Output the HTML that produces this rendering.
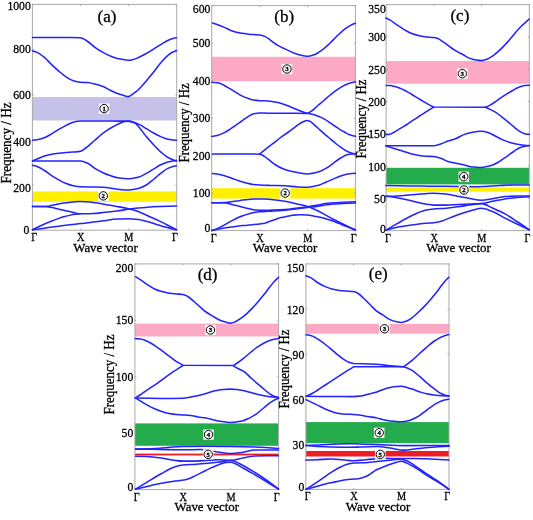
<!DOCTYPE html>
<html><head><meta charset="utf-8"><style>
html,body{margin:0;padding:0;background:#fff;width:533px;height:520px;overflow:hidden;}
svg{position:absolute;left:0;top:0;font-family:"Liberation Serif", serif;}
text{filter:grayscale(1);}
text{fill:#000;stroke:#000;stroke-width:0.3px;}
</style></head><body>
<svg width="533" height="520" viewBox="0 0 533 520">
<rect width="533" height="520" fill="#fff"/>
<rect x="32.4" y="97" width="144.29999999999998" height="23.50" fill="#c6c1e8"/>
<rect x="32.4" y="191.4" width="144.29999999999998" height="10.40" fill="#fff000"/>
<rect x="32.4" y="4.4" width="144.29999999999998" height="225.79999999999998" fill="none" stroke="#a9a9a9" stroke-width="1"/>
<line x1="32.4" y1="230.20" x2="33.9" y2="230.20" stroke="#999" stroke-width="0.8"/>
<line x1="176.7" y1="230.20" x2="175.2" y2="230.20" stroke="#999" stroke-width="0.8"/>
<text transform="translate(29.30,234.20) scale(0.9,1)" font-size="13.0" text-anchor="end">0</text>
<line x1="32.4" y1="185.04" x2="33.9" y2="185.04" stroke="#999" stroke-width="0.8"/>
<line x1="176.7" y1="185.04" x2="175.2" y2="185.04" stroke="#999" stroke-width="0.8"/>
<text transform="translate(30.80,191.70) scale(0.9,1)" font-size="13.0" text-anchor="end">200</text>
<line x1="32.4" y1="139.88" x2="33.9" y2="139.88" stroke="#999" stroke-width="0.8"/>
<line x1="176.7" y1="139.88" x2="175.2" y2="139.88" stroke="#999" stroke-width="0.8"/>
<text transform="translate(30.80,145.65) scale(0.9,1)" font-size="13.0" text-anchor="end">400</text>
<line x1="32.4" y1="94.72" x2="33.9" y2="94.72" stroke="#999" stroke-width="0.8"/>
<line x1="176.7" y1="94.72" x2="175.2" y2="94.72" stroke="#999" stroke-width="0.8"/>
<text transform="translate(30.80,99.45) scale(0.9,1)" font-size="13.0" text-anchor="end">600</text>
<line x1="32.4" y1="49.56" x2="33.9" y2="49.56" stroke="#999" stroke-width="0.8"/>
<line x1="176.7" y1="49.56" x2="175.2" y2="49.56" stroke="#999" stroke-width="0.8"/>
<text transform="translate(30.80,53.30) scale(0.9,1)" font-size="13.0" text-anchor="end">800</text>
<line x1="32.4" y1="4.40" x2="33.9" y2="4.40" stroke="#999" stroke-width="0.8"/>
<line x1="176.7" y1="4.40" x2="175.2" y2="4.40" stroke="#999" stroke-width="0.8"/>
<text transform="translate(30.80,10.05) scale(0.9,1)" font-size="13.0" text-anchor="end">1000</text>
<line x1="80.50" y1="230.2" x2="80.50" y2="228.7" stroke="#999" stroke-width="0.8"/>
<line x1="80.50" y1="4.4" x2="80.50" y2="5.9" stroke="#999" stroke-width="0.8"/>
<line x1="128.60" y1="230.2" x2="128.60" y2="228.7" stroke="#999" stroke-width="0.8"/>
<line x1="128.60" y1="4.4" x2="128.60" y2="5.9" stroke="#999" stroke-width="0.8"/>
<path d="M32.50,37.50C38.33,37.50 44.17,37.50 50.00,37.50C56.67,37.50 63.33,37.50 70.00,37.50C73.50,37.50 77.00,37.60 80.50,37.80C82.90,37.94 85.30,39.99 87.70,41.50C90.10,43.01 92.50,45.60 94.90,47.30C97.60,49.21 100.30,50.90 103.00,52.40C105.40,53.73 107.80,55.04 110.20,56.00C112.60,56.96 115.00,57.83 117.40,58.40C120.97,59.24 124.53,60.30 128.10,60.30C129.73,60.30 131.37,59.94 133.00,59.60C134.70,59.25 136.40,58.42 138.10,57.70C140.67,56.61 143.23,55.21 145.80,53.80C148.37,52.39 150.93,50.78 153.50,49.20C156.07,47.62 158.63,45.84 161.20,44.30C163.73,42.78 166.27,41.13 168.80,40.00C170.20,39.37 171.60,38.76 173.00,38.40C174.17,38.10 175.33,37.84 176.50,37.70" fill="none" stroke="#2323ff" stroke-width="1.55" stroke-linejoin="round" stroke-linecap="round"/>
<path d="M32.50,50.90C34.07,51.17 35.63,51.73 37.20,52.40C39.60,53.42 42.00,55.43 44.40,57.40C46.80,59.37 49.20,62.32 51.60,64.60C54.00,66.88 56.40,69.07 58.80,71.10C61.23,73.16 63.67,75.33 66.10,76.90C68.50,78.45 70.90,80.11 73.30,80.80C75.70,81.49 78.10,81.99 80.50,82.20C82.90,82.41 85.30,82.39 87.70,82.60C90.10,82.81 92.50,83.51 94.90,84.10C97.60,84.76 100.30,85.47 103.00,86.50C105.40,87.42 107.80,89.14 110.20,90.30C112.60,91.46 115.00,92.61 117.40,93.50C119.60,94.31 121.80,95.00 124.00,95.60C125.37,95.97 126.73,96.60 128.10,96.60C129.73,96.60 131.37,94.86 133.00,93.80C134.70,92.70 136.40,91.49 138.10,90.00C140.67,87.75 143.23,84.45 145.80,81.50C148.37,78.55 150.93,75.49 153.50,72.30C156.07,69.11 158.63,65.22 161.20,62.30C163.73,59.42 166.27,56.50 168.80,54.60C170.20,53.55 171.60,52.61 173.00,52.00C174.17,51.49 175.33,51.05 176.50,50.80" fill="none" stroke="#2323ff" stroke-width="1.55" stroke-linejoin="round" stroke-linecap="round"/>
<path d="M32.50,140.20C34.07,140.19 35.63,140.00 37.20,139.80C39.60,139.50 42.00,138.69 44.40,137.80C46.80,136.91 49.20,135.20 51.60,133.80C54.00,132.40 56.40,130.79 58.80,129.40C61.23,127.99 63.67,126.59 66.10,125.40C68.50,124.22 70.90,122.75 73.30,122.20C75.70,121.65 78.10,121.14 80.50,121.10C85.33,121.03 90.17,121.00 95.00,121.00C100.00,121.00 105.00,121.10 110.00,121.10C116.17,121.10 122.33,121.10 128.50,121.10C132.03,121.10 135.57,122.92 139.10,124.40C141.50,125.40 143.90,127.27 146.30,128.70C148.70,130.13 151.10,131.69 153.50,133.00C155.90,134.31 158.30,135.59 160.70,136.60C163.10,137.61 165.50,138.77 167.90,139.20C170.77,139.71 173.63,140.20 176.50,140.20" fill="none" stroke="#2323ff" stroke-width="1.55" stroke-linejoin="round" stroke-linecap="round"/>
<path d="M32.50,160.90C34.07,160.27 35.63,159.63 37.20,159.00C39.60,158.03 42.00,156.87 44.40,156.10C46.80,155.33 49.20,154.64 51.60,154.20C54.00,153.76 56.40,153.47 58.80,153.20C61.23,152.92 63.67,152.71 66.10,152.50C67.40,152.39 68.70,152.29 70.00,152.20C71.67,152.09 73.33,152.04 75.00,151.90C76.83,151.75 78.67,151.59 80.50,151.20C82.00,150.88 83.50,149.52 85.00,148.50C86.80,147.27 88.60,145.71 90.40,144.20C92.97,142.04 95.53,139.46 98.10,137.30C100.67,135.14 103.23,132.97 105.80,131.20C108.37,129.43 110.93,127.90 113.50,126.50C116.07,125.10 118.63,123.66 121.20,122.70C122.47,122.22 123.73,121.71 125.00,121.50C126.17,121.31 127.33,121.10 128.50,121.10C130.57,121.10 132.63,121.94 134.70,122.90C136.17,123.58 137.63,125.66 139.10,127.30C141.50,129.98 143.90,133.73 146.30,136.60C148.70,139.47 151.10,142.07 153.50,144.60C155.90,147.13 158.30,149.68 160.70,151.80C163.10,153.92 165.50,156.22 167.90,157.50C170.77,159.03 173.63,160.39 176.50,160.90" fill="none" stroke="#2323ff" stroke-width="1.55" stroke-linejoin="round" stroke-linecap="round"/>
<path d="M32.50,160.90C38.33,160.90 44.17,160.90 50.00,160.90C56.67,160.90 63.33,160.90 70.00,160.90C73.50,160.90 77.00,160.93 80.50,161.00C82.90,161.05 85.30,162.24 87.70,163.30C90.10,164.36 92.50,166.94 94.90,168.40C97.60,170.04 100.30,171.47 103.00,172.70C105.40,173.80 107.80,174.79 110.20,175.60C112.60,176.41 115.00,177.33 117.40,177.70C121.10,178.27 124.80,178.80 128.50,178.80C132.03,178.80 135.57,177.92 139.10,177.00C141.50,176.37 143.90,174.71 146.30,173.40C148.70,172.09 151.10,170.53 153.50,169.10C155.90,167.67 158.30,165.95 160.70,164.80C163.10,163.65 165.50,162.49 167.90,161.90C170.77,161.19 173.63,160.54 176.50,160.40" fill="none" stroke="#2323ff" stroke-width="1.55" stroke-linejoin="round" stroke-linecap="round"/>
<path d="M32.50,165.20C34.07,165.52 35.63,166.01 37.20,166.60C39.60,167.50 42.00,169.03 44.40,170.50C46.80,171.97 49.20,174.04 51.60,175.60C54.00,177.16 56.40,178.60 58.80,179.90C61.23,181.21 63.67,182.58 66.10,183.50C68.50,184.41 70.90,185.24 73.30,185.70C75.70,186.16 78.10,186.60 80.50,186.70C84.67,186.88 88.83,186.89 93.00,187.00C96.33,187.09 99.67,187.14 103.00,187.30C107.80,187.53 112.60,188.76 117.40,189.20C121.10,189.54 124.80,190.00 128.50,190.00C132.03,190.00 135.57,189.17 139.10,188.30C141.50,187.71 143.90,186.38 146.30,185.00C148.70,183.62 151.10,181.43 153.50,179.50C155.90,177.57 158.30,175.23 160.70,173.40C163.10,171.57 165.50,169.42 167.90,168.40C170.77,167.18 173.63,166.05 176.50,165.80" fill="none" stroke="#2323ff" stroke-width="1.55" stroke-linejoin="round" stroke-linecap="round"/>
<path d="M32.50,206.40C35.00,206.40 37.50,206.40 40.00,206.40C42.30,206.40 44.60,206.32 46.90,206.20C48.60,206.11 50.30,205.61 52.00,205.30C54.07,204.92 56.13,204.48 58.20,204.10C60.13,203.75 62.07,203.39 64.00,203.10C65.80,202.83 67.60,202.61 69.40,202.40C71.27,202.18 73.13,201.94 75.00,201.80C76.67,201.67 78.33,201.50 80.00,201.50C82.00,201.50 84.00,201.67 86.00,201.80C88.43,201.96 90.87,202.22 93.30,202.50C96.53,202.87 99.77,203.38 103.00,203.90C107.70,204.66 112.40,205.59 117.10,206.50C120.90,207.23 124.70,207.92 128.50,208.80C131.00,209.38 133.50,210.00 136.00,210.80C138.63,211.65 141.27,212.86 143.90,214.00C146.27,215.03 148.63,216.24 151.00,217.30C153.53,218.44 156.07,219.42 158.60,220.60C161.17,221.80 163.73,223.17 166.30,224.50C168.20,225.48 170.10,226.52 172.00,227.50C173.50,228.28 175.00,229.04 176.50,229.80" fill="none" stroke="#2323ff" stroke-width="1.55" stroke-linejoin="round" stroke-linecap="round"/>
<path d="M32.50,206.40C35.00,206.41 37.50,206.45 40.00,206.50C42.30,206.54 44.60,206.58 46.90,206.70C48.60,206.79 50.30,207.26 52.00,207.60C54.07,208.01 56.13,208.54 58.20,209.00C60.13,209.43 62.07,209.87 64.00,210.30C65.80,210.70 67.60,211.08 69.40,211.50C71.27,211.94 73.13,212.54 75.00,212.90C76.70,213.23 78.40,213.70 80.10,213.70C82.17,213.70 84.23,213.70 86.30,213.70C88.63,213.70 90.97,213.60 93.30,213.50C96.53,213.36 99.77,212.93 103.00,212.60C107.70,212.12 112.40,211.61 117.10,211.00C120.90,210.51 124.70,209.81 128.50,209.30C131.73,208.86 134.97,208.46 138.20,208.10C140.53,207.84 142.87,207.59 145.20,207.40C149.90,207.02 154.60,206.69 159.30,206.50C165.03,206.27 170.77,206.06 176.50,206.00" fill="none" stroke="#2323ff" stroke-width="1.55" stroke-linejoin="round" stroke-linecap="round"/>
<path d="M32.50,229.80C35.43,228.28 38.37,226.83 41.30,225.50C45.03,223.81 48.77,222.23 52.50,220.80C56.27,219.35 60.03,217.86 63.80,216.80C67.53,215.75 71.27,214.69 75.00,214.20C76.70,213.98 78.40,213.80 80.10,213.70" fill="none" stroke="#2323ff" stroke-width="1.55" stroke-linejoin="round" stroke-linecap="round"/>
<path d="M32.50,229.80C35.43,229.47 38.37,229.10 41.30,228.70C45.03,228.19 48.77,227.53 52.50,227.00C56.27,226.47 60.03,225.97 63.80,225.50C67.53,225.04 71.27,224.61 75.00,224.20C76.90,223.99 78.80,223.80 80.70,223.60C82.57,223.40 84.43,223.22 86.30,223.00C87.53,222.85 88.77,222.68 90.00,222.50C91.10,222.34 92.20,222.15 93.30,222.00C96.53,221.55 99.77,221.20 103.00,220.80C107.70,220.23 112.40,219.35 117.10,219.10C120.90,218.90 124.70,218.70 128.50,218.70C131.73,218.70 134.97,219.03 138.20,219.40C140.53,219.67 142.87,220.50 145.20,221.10C147.53,221.70 149.87,222.32 152.20,223.00C154.33,223.62 156.47,224.35 158.60,225.00C161.17,225.78 163.73,226.61 166.30,227.30C169.70,228.22 173.10,229.07 176.50,229.80" fill="none" stroke="#2323ff" stroke-width="1.55" stroke-linejoin="round" stroke-linecap="round"/>
<rect x="98.85" y="103.50" width="10.5" height="10.2" fill="#fff"/>
<circle cx="104.1" cy="108.6" r="4.2" fill="#fff" stroke="#000" stroke-width="1.0"/>
<text x="104.1" y="110.90" font-size="6.8" font-weight="bold" text-anchor="middle" style="stroke-width:0.3px">1</text>
<rect x="98.05" y="190.80" width="10.5" height="10.2" fill="#fff"/>
<circle cx="103.3" cy="195.9" r="4.2" fill="#fff" stroke="#000" stroke-width="1.0"/>
<text x="103.3" y="198.20" font-size="6.8" font-weight="bold" text-anchor="middle" style="stroke-width:0.3px">2</text>
<text transform="translate(34.30,241.40) scale(0.76,1)" font-size="13.5" text-anchor="middle">Γ</text>
<text transform="translate(80.80,241.40) scale(0.76,1)" font-size="13.5" text-anchor="middle">X</text>
<text transform="translate(128.90,241.40) scale(0.76,1)" font-size="13.5" text-anchor="middle">M</text>
<text transform="translate(174.90,241.40) scale(0.76,1)" font-size="13.5" text-anchor="middle">Γ</text>
<text x="105.5" y="251.5" font-size="12.9" text-anchor="middle">Wave vector</text>
<text x="107" y="22" font-size="17" text-anchor="middle">(a)</text>
<text transform="translate(11.1,143.0) rotate(-90) scale(0.94,1)" font-size="14" text-anchor="middle">Frequency / Hz</text>
<rect x="211.7" y="56.8" width="143.7" height="24.40" fill="#fba9c5"/>
<rect x="211.7" y="188.2" width="143.7" height="10.40" fill="#fff000"/>
<rect x="211.7" y="5.6" width="143.7" height="225.0" fill="none" stroke="#a9a9a9" stroke-width="1"/>
<line x1="211.7" y1="230.60" x2="213.2" y2="230.60" stroke="#999" stroke-width="0.8"/>
<line x1="355.4" y1="230.60" x2="353.9" y2="230.60" stroke="#999" stroke-width="0.8"/>
<text transform="translate(210.40,232.40) scale(0.9,1)" font-size="13.0" text-anchor="end">0</text>
<line x1="211.7" y1="193.10" x2="213.2" y2="193.10" stroke="#999" stroke-width="0.8"/>
<line x1="355.4" y1="193.10" x2="353.9" y2="193.10" stroke="#999" stroke-width="0.8"/>
<text transform="translate(210.40,197.20) scale(0.9,1)" font-size="13.0" text-anchor="end">100</text>
<line x1="211.7" y1="155.60" x2="213.2" y2="155.60" stroke="#999" stroke-width="0.8"/>
<line x1="355.4" y1="155.60" x2="353.9" y2="155.60" stroke="#999" stroke-width="0.8"/>
<text transform="translate(210.40,159.70) scale(0.9,1)" font-size="13.0" text-anchor="end">200</text>
<line x1="211.7" y1="118.10" x2="213.2" y2="118.10" stroke="#999" stroke-width="0.8"/>
<line x1="355.4" y1="118.10" x2="353.9" y2="118.10" stroke="#999" stroke-width="0.8"/>
<text transform="translate(210.40,122.20) scale(0.9,1)" font-size="13.0" text-anchor="end">300</text>
<line x1="211.7" y1="80.60" x2="213.2" y2="80.60" stroke="#999" stroke-width="0.8"/>
<line x1="355.4" y1="80.60" x2="353.9" y2="80.60" stroke="#999" stroke-width="0.8"/>
<text transform="translate(210.40,84.70) scale(0.9,1)" font-size="13.0" text-anchor="end">400</text>
<line x1="211.7" y1="43.10" x2="213.2" y2="43.10" stroke="#999" stroke-width="0.8"/>
<line x1="355.4" y1="43.10" x2="353.9" y2="43.10" stroke="#999" stroke-width="0.8"/>
<text transform="translate(210.40,47.20) scale(0.9,1)" font-size="13.0" text-anchor="end">500</text>
<line x1="211.7" y1="5.60" x2="213.2" y2="5.60" stroke="#999" stroke-width="0.8"/>
<line x1="355.4" y1="5.60" x2="353.9" y2="5.60" stroke="#999" stroke-width="0.8"/>
<text transform="translate(210.40,12.60) scale(0.9,1)" font-size="13.0" text-anchor="end">600</text>
<line x1="259.60" y1="230.6" x2="259.60" y2="229.1" stroke="#999" stroke-width="0.8"/>
<line x1="259.60" y1="5.6" x2="259.60" y2="7.1" stroke="#999" stroke-width="0.8"/>
<line x1="307.50" y1="230.6" x2="307.50" y2="229.1" stroke="#999" stroke-width="0.8"/>
<line x1="307.50" y1="5.6" x2="307.50" y2="7.1" stroke="#999" stroke-width="0.8"/>
<path d="M212.50,23.00C214.07,23.45 215.63,23.95 217.20,24.50C219.60,25.35 222.00,26.37 224.40,27.40C226.80,28.43 229.20,29.87 231.60,30.70C234.00,31.53 236.40,32.23 238.80,32.70C241.23,33.18 243.67,33.49 246.10,33.80C248.50,34.11 250.90,34.44 253.30,34.60C255.47,34.74 257.63,34.72 259.80,34.90C261.47,35.04 263.13,35.71 264.80,36.40C266.73,37.19 268.67,38.97 270.60,40.30C273.00,41.95 275.40,44.01 277.80,45.40C279.53,46.41 281.27,47.16 283.00,48.00C285.40,49.17 287.80,50.36 290.20,51.40C292.60,52.44 295.00,53.63 297.40,54.30C300.43,55.14 303.47,56.20 306.50,56.20C307.67,56.20 308.83,56.05 310.00,55.90C311.40,55.72 312.80,55.22 314.20,54.70C316.77,53.74 319.33,51.91 321.90,50.10C324.47,48.29 327.03,45.87 329.60,43.50C332.17,41.13 334.73,38.24 337.30,35.80C339.87,33.36 342.43,30.65 345.00,28.80C347.57,26.95 350.13,25.33 352.70,24.20C353.60,23.80 354.50,23.48 355.40,23.20" fill="none" stroke="#2323ff" stroke-width="1.55" stroke-linejoin="round" stroke-linecap="round"/>
<path d="M211.80,82.20C213.87,82.20 215.93,82.48 218.00,82.80C219.97,83.11 221.93,84.26 223.90,85.20C225.90,86.16 227.90,87.52 229.90,88.70C231.90,89.88 233.90,91.09 235.90,92.30C237.87,93.49 239.83,94.95 241.80,95.90C243.80,96.87 245.80,97.61 247.80,98.30C249.80,98.99 251.80,99.80 253.80,100.10C255.77,100.40 257.73,100.59 259.70,100.70C262.37,100.85 265.03,100.84 267.70,101.00C270.10,101.14 272.50,101.58 274.90,102.00C277.60,102.47 280.30,103.10 283.00,103.90C285.40,104.62 287.80,105.83 290.20,106.80C292.60,107.77 295.00,108.80 297.40,109.70C300.77,110.96 304.13,113.20 307.50,113.20C309.33,113.20 311.17,111.31 313.00,110.00C314.63,108.83 316.27,106.93 317.90,105.50C319.90,103.75 321.90,102.22 323.90,100.50C325.60,99.04 327.30,97.43 329.00,96.00C330.50,94.74 332.00,93.53 333.50,92.40C335.90,90.59 338.30,88.71 340.70,87.30C343.10,85.89 345.50,84.44 347.90,83.70C350.43,82.91 352.97,82.21 355.50,82.00" fill="none" stroke="#2323ff" stroke-width="1.55" stroke-linejoin="round" stroke-linecap="round"/>
<path d="M211.80,136.50C213.87,136.33 215.93,135.84 218.00,135.30C219.97,134.78 221.93,133.85 223.90,132.90C225.90,131.93 227.90,130.59 229.90,129.30C231.90,128.01 233.90,126.49 235.90,125.10C237.87,123.73 239.83,122.37 241.80,121.00C243.80,119.61 245.80,117.97 247.80,116.80C249.80,115.63 251.80,114.27 253.80,113.80C255.77,113.34 257.73,112.90 259.70,112.90C263.13,112.90 266.57,113.30 270.00,113.30C274.33,113.30 278.67,113.30 283.00,113.30C291.17,113.30 299.33,113.31 307.50,113.40C308.33,113.41 309.17,113.57 310.00,113.70C311.63,113.95 313.27,114.40 314.90,114.90C316.57,115.41 318.23,116.16 319.90,116.90C321.57,117.64 323.23,118.45 324.90,119.40C326.57,120.35 328.23,121.59 329.90,122.70C331.53,123.79 333.17,124.91 334.80,126.00C336.47,127.11 338.13,128.25 339.80,129.30C341.47,130.35 343.13,131.38 344.80,132.30C346.43,133.20 348.07,134.23 349.70,134.80C351.63,135.47 353.57,136.06 355.50,136.30" fill="none" stroke="#2323ff" stroke-width="1.55" stroke-linejoin="round" stroke-linecap="round"/>
<path d="M259.70,154.00C261.80,152.27 263.90,150.56 266.00,148.90C268.63,146.82 271.27,144.85 273.90,142.80C275.93,141.21 277.97,139.52 280.00,138.00C282.60,136.06 285.20,134.39 287.80,132.50C289.53,131.24 291.27,129.90 293.00,128.60C294.97,127.13 296.93,125.48 298.90,124.20C300.27,123.31 301.63,122.35 303.00,121.80C304.43,121.23 305.87,120.50 307.30,120.50C308.20,120.50 309.10,120.99 310.00,121.40C311.63,122.14 313.27,123.92 314.90,125.30C316.57,126.71 318.23,128.30 319.90,129.80C321.57,131.30 323.23,132.84 324.90,134.30C326.87,136.02 328.83,137.64 330.80,139.30C332.67,140.87 334.53,142.53 336.40,144.00C337.83,145.13 339.27,146.21 340.70,147.20C343.10,148.86 345.50,150.84 347.90,151.80C350.43,152.81 352.97,153.72 355.50,154.00" fill="none" stroke="#2323ff" stroke-width="1.55" stroke-linejoin="round" stroke-linecap="round"/>
<path d="M212.50,154.00C218.33,154.00 224.17,154.00 230.00,154.00C236.67,154.00 243.33,154.00 250.00,154.00C253.27,154.00 256.53,154.07 259.80,154.20C262.43,154.31 265.07,157.03 267.70,158.80C270.10,160.41 272.50,162.97 274.90,164.50C277.60,166.22 280.30,167.74 283.00,168.80C285.33,169.72 287.67,170.42 290.00,171.00C292.47,171.61 294.93,172.09 297.40,172.50C300.77,173.06 304.13,173.90 307.50,173.90C311.33,173.90 315.17,172.79 319.00,171.70C321.43,171.01 323.87,169.50 326.30,168.10C328.70,166.72 331.10,164.78 333.50,163.10C335.90,161.42 338.30,159.41 340.70,158.00C343.10,156.59 345.50,154.78 347.90,154.40C350.43,154.00 352.97,153.70 355.50,153.70" fill="none" stroke="#2323ff" stroke-width="1.55" stroke-linejoin="round" stroke-linecap="round"/>
<path d="M212.50,173.50C214.07,173.52 215.63,173.71 217.20,173.90C219.60,174.20 222.00,175.09 224.40,175.80C226.80,176.51 229.20,177.37 231.60,178.20C234.00,179.03 236.40,180.01 238.80,180.80C241.23,181.60 243.67,182.43 246.10,183.00C248.50,183.57 250.90,184.10 253.30,184.40C255.47,184.67 257.63,184.88 259.80,185.00C263.20,185.19 266.60,185.29 270.00,185.40C275.00,185.56 280.00,185.59 285.00,185.80C289.13,185.97 293.27,186.68 297.40,186.90C300.77,187.08 304.13,187.30 307.50,187.30C311.33,187.30 315.17,186.22 319.00,185.20C321.43,184.55 323.87,183.06 326.30,182.00C328.70,180.96 331.10,179.88 333.50,178.90C335.90,177.92 338.30,176.92 340.70,176.10C343.10,175.28 345.50,174.24 347.90,173.90C350.43,173.54 352.97,173.20 355.50,173.20" fill="none" stroke="#2323ff" stroke-width="1.55" stroke-linejoin="round" stroke-linecap="round"/>
<path d="M211.80,202.70C214.20,202.70 216.60,202.70 219.00,202.70C221.30,202.70 223.60,202.66 225.90,202.60C227.60,202.55 229.30,202.06 231.00,201.80C233.07,201.49 235.13,201.19 237.20,200.90C239.13,200.63 241.07,200.34 243.00,200.10C244.80,199.88 246.60,199.67 248.40,199.50C250.10,199.34 251.80,199.19 253.50,199.10C255.17,199.01 256.83,198.90 258.50,198.90C260.33,198.90 262.17,198.95 264.00,199.00C265.67,199.05 267.33,199.18 269.00,199.30C270.43,199.41 271.87,199.55 273.30,199.70C277.20,200.11 281.10,200.57 285.00,201.20C289.03,201.86 293.07,202.95 297.10,203.90C300.60,204.72 304.10,205.41 307.60,206.50C311.13,207.60 314.67,209.28 318.20,211.00C320.53,212.13 322.87,213.62 325.20,214.90C327.53,216.18 329.87,217.49 332.20,218.70C334.57,219.92 336.93,221.03 339.30,222.20C341.63,223.36 343.97,224.60 346.30,225.70C349.37,227.15 352.43,228.53 355.50,229.80" fill="none" stroke="#2323ff" stroke-width="1.55" stroke-linejoin="round" stroke-linecap="round"/>
<path d="M211.80,202.70C214.20,202.70 216.60,202.75 219.00,202.80C221.30,202.85 223.60,202.93 225.90,203.10C227.60,203.23 229.30,203.81 231.00,204.20C233.07,204.67 235.13,205.18 237.20,205.70C239.13,206.18 241.07,206.72 243.00,207.20C244.80,207.65 246.60,208.12 248.40,208.50C251.03,209.06 253.67,209.78 256.30,210.00C257.43,210.10 258.57,210.20 259.70,210.20C262.80,210.20 265.90,210.20 269.00,210.20C270.43,210.20 271.87,210.14 273.30,210.10C277.20,209.99 281.10,209.85 285.00,209.60C289.03,209.34 293.07,208.62 297.10,208.10C300.60,207.65 304.10,207.21 307.60,206.70C311.13,206.19 314.67,205.63 318.20,205.00C320.53,204.58 322.87,203.88 325.20,203.60C329.90,203.05 334.60,202.76 339.30,202.50C344.70,202.20 350.10,201.93 355.50,201.80" fill="none" stroke="#2323ff" stroke-width="1.55" stroke-linejoin="round" stroke-linecap="round"/>
<path d="M211.80,230.60C214.63,229.61 217.47,228.43 220.30,227.10C224.03,225.35 227.77,222.76 231.50,220.90C235.27,219.03 239.03,217.14 242.80,215.80C246.53,214.47 250.27,213.18 254.00,212.50C255.90,212.15 257.80,211.83 259.70,211.70C262.80,211.49 265.90,211.44 269.00,211.30C270.43,211.24 271.87,211.18 273.30,211.10C277.20,210.88 281.10,210.56 285.00,210.20C289.03,209.83 293.07,209.28 297.10,208.80C300.60,208.38 304.10,207.93 307.60,207.50C311.13,207.06 314.67,206.71 318.20,206.20C320.53,205.86 322.87,205.28 325.20,205.00C329.90,204.44 334.60,204.10 339.30,203.80C344.70,203.46 350.10,203.16 355.50,203.00" fill="none" stroke="#2323ff" stroke-width="1.55" stroke-linejoin="round" stroke-linecap="round"/>
<path d="M211.80,230.60C214.63,229.93 217.47,229.30 220.30,228.80C224.03,228.13 227.77,227.63 231.50,227.10C235.27,226.57 239.03,226.03 242.80,225.60C246.53,225.18 250.27,224.88 254.00,224.50C255.90,224.31 257.80,224.12 259.70,223.90C261.47,223.69 263.23,223.55 265.00,223.20C266.67,222.87 268.33,221.79 270.00,221.20C272.10,220.45 274.20,219.89 276.30,219.20C277.87,218.68 279.43,218.02 281.00,217.60C283.17,217.02 285.33,216.63 287.50,216.20C289.33,215.84 291.17,215.42 293.00,215.20C294.93,214.97 296.87,214.70 298.80,214.70C300.20,214.70 301.60,214.70 303.00,214.70C304.40,214.70 305.80,214.87 307.20,215.00C308.47,215.12 309.73,215.30 311.00,215.50C312.57,215.74 314.13,216.09 315.70,216.40C317.13,216.69 318.57,216.97 320.00,217.30C321.67,217.69 323.33,218.13 325.00,218.60C327.40,219.27 329.80,219.97 332.20,220.80C334.57,221.62 336.93,222.66 339.30,223.60C341.63,224.53 343.97,225.44 346.30,226.40C349.33,227.65 352.37,228.95 355.40,230.30" fill="none" stroke="#2323ff" stroke-width="1.55" stroke-linejoin="round" stroke-linecap="round"/>
<rect x="281.75" y="63.90" width="10.5" height="10.2" fill="#fff"/>
<circle cx="287" cy="69" r="4.2" fill="#fff" stroke="#000" stroke-width="1.0"/>
<text x="287" y="71.30" font-size="6.8" font-weight="bold" text-anchor="middle" style="stroke-width:0.3px">3</text>
<rect x="279.95" y="188.00" width="10.5" height="10.2" fill="#fff"/>
<circle cx="285.2" cy="193.1" r="4.2" fill="#fff" stroke="#000" stroke-width="1.0"/>
<text x="285.2" y="195.40" font-size="6.8" font-weight="bold" text-anchor="middle" style="stroke-width:0.3px">2</text>
<text transform="translate(213.60,241.80) scale(0.76,1)" font-size="13.5" text-anchor="middle">Γ</text>
<text transform="translate(259.90,241.80) scale(0.76,1)" font-size="13.5" text-anchor="middle">X</text>
<text transform="translate(307.80,241.80) scale(0.76,1)" font-size="13.5" text-anchor="middle">M</text>
<text transform="translate(353.60,241.80) scale(0.76,1)" font-size="13.5" text-anchor="middle">Γ</text>
<text x="285" y="251.5" font-size="12.9" text-anchor="middle">Wave vector</text>
<text x="284.2" y="22" font-size="17" text-anchor="middle">(b)</text>
<text transform="translate(189.4,122.95) rotate(-90) scale(0.917,1)" font-size="14" text-anchor="middle">Frequency / Hz</text>
<rect x="386.1" y="61" width="143.19999999999993" height="22.70" fill="#fba9c5"/>
<rect x="386.1" y="167.8" width="143.19999999999993" height="16.60" fill="#24ab4b"/>
<rect x="386.1" y="187.4" width="143.19999999999993" height="4.30" fill="#fff000"/>
<rect x="386.1" y="4.6" width="143.19999999999993" height="226.0" fill="none" stroke="#a9a9a9" stroke-width="1"/>
<line x1="386.1" y1="230.60" x2="387.6" y2="230.60" stroke="#999" stroke-width="0.8"/>
<line x1="529.3" y1="230.60" x2="527.8" y2="230.60" stroke="#999" stroke-width="0.8"/>
<text transform="translate(385.80,232.50) scale(0.9,1)" font-size="13.0" text-anchor="end">0</text>
<line x1="386.1" y1="198.31" x2="387.6" y2="198.31" stroke="#999" stroke-width="0.8"/>
<line x1="529.3" y1="198.31" x2="527.8" y2="198.31" stroke="#999" stroke-width="0.8"/>
<text transform="translate(385.80,202.81) scale(0.9,1)" font-size="13.0" text-anchor="end">50</text>
<line x1="386.1" y1="166.03" x2="387.6" y2="166.03" stroke="#999" stroke-width="0.8"/>
<line x1="529.3" y1="166.03" x2="527.8" y2="166.03" stroke="#999" stroke-width="0.8"/>
<text transform="translate(385.80,170.53) scale(0.9,1)" font-size="13.0" text-anchor="end">100</text>
<line x1="386.1" y1="133.74" x2="387.6" y2="133.74" stroke="#999" stroke-width="0.8"/>
<line x1="529.3" y1="133.74" x2="527.8" y2="133.74" stroke="#999" stroke-width="0.8"/>
<text transform="translate(385.80,138.24) scale(0.9,1)" font-size="13.0" text-anchor="end">150</text>
<line x1="386.1" y1="101.46" x2="387.6" y2="101.46" stroke="#999" stroke-width="0.8"/>
<line x1="529.3" y1="101.46" x2="527.8" y2="101.46" stroke="#999" stroke-width="0.8"/>
<text transform="translate(385.80,105.96) scale(0.9,1)" font-size="13.0" text-anchor="end">200</text>
<line x1="386.1" y1="69.17" x2="387.6" y2="69.17" stroke="#999" stroke-width="0.8"/>
<line x1="529.3" y1="69.17" x2="527.8" y2="69.17" stroke="#999" stroke-width="0.8"/>
<text transform="translate(385.80,73.67) scale(0.9,1)" font-size="13.0" text-anchor="end">250</text>
<line x1="386.1" y1="36.89" x2="387.6" y2="36.89" stroke="#999" stroke-width="0.8"/>
<line x1="529.3" y1="36.89" x2="527.8" y2="36.89" stroke="#999" stroke-width="0.8"/>
<text transform="translate(385.80,41.39) scale(0.9,1)" font-size="13.0" text-anchor="end">300</text>
<line x1="386.1" y1="4.60" x2="387.6" y2="4.60" stroke="#999" stroke-width="0.8"/>
<line x1="529.3" y1="4.60" x2="527.8" y2="4.60" stroke="#999" stroke-width="0.8"/>
<text transform="translate(385.80,12.80) scale(0.9,1)" font-size="13.0" text-anchor="end">350</text>
<line x1="433.83" y1="230.6" x2="433.83" y2="229.1" stroke="#999" stroke-width="0.8"/>
<line x1="433.83" y1="4.6" x2="433.83" y2="6.1" stroke="#999" stroke-width="0.8"/>
<line x1="481.57" y1="230.6" x2="481.57" y2="229.1" stroke="#999" stroke-width="0.8"/>
<line x1="481.57" y1="4.6" x2="481.57" y2="6.1" stroke="#999" stroke-width="0.8"/>
<path d="M385.80,18.00C387.27,18.57 388.73,19.28 390.20,20.10C392.60,21.45 395.00,23.59 397.40,25.20C399.80,26.81 402.20,28.41 404.60,29.80C407.00,31.19 409.40,32.71 411.80,33.60C414.23,34.51 416.67,35.16 419.10,35.70C421.50,36.23 423.90,36.76 426.30,37.00C428.70,37.24 431.10,37.23 433.50,37.50C434.93,37.66 436.37,38.02 437.80,38.50C439.73,39.14 441.67,40.88 443.60,42.20C446.00,43.84 448.40,45.84 450.80,47.50C452.53,48.70 454.27,49.87 456.00,50.90C458.40,52.33 460.80,53.52 463.20,54.80C465.47,56.01 467.73,57.54 470.00,58.40C471.90,59.12 473.80,59.84 475.70,60.10C477.60,60.36 479.50,60.60 481.40,60.60C483.33,60.60 485.27,59.87 487.20,59.20C489.10,58.55 491.00,57.10 492.90,55.80C494.80,54.50 496.70,52.90 498.60,51.20C500.50,49.50 502.40,47.49 504.30,45.50C506.20,43.51 508.10,41.38 510.00,39.20C511.93,36.98 513.87,34.52 515.80,32.30C517.70,30.12 519.60,27.88 521.50,26.00C523.40,24.12 525.30,22.61 527.20,20.90C527.90,20.27 528.60,19.64 529.30,19.00" fill="none" stroke="#2323ff" stroke-width="1.55" stroke-linejoin="round" stroke-linecap="round"/>
<path d="M386.10,85.40C387.40,85.40 388.70,85.50 390.00,85.60C391.57,85.72 393.13,86.12 394.70,86.50C396.27,86.88 397.83,87.42 399.40,88.00C400.93,88.56 402.47,89.25 404.00,90.00C405.60,90.78 407.20,91.77 408.80,92.70C410.37,93.61 411.93,94.56 413.50,95.50C415.03,96.42 416.57,97.38 418.10,98.30C419.67,99.24 421.23,100.17 422.80,101.10C424.37,102.03 425.93,103.04 427.50,103.90C429.53,105.02 431.57,106.07 433.60,107.00 M433.60,107.00L485.30,107.20 M485.30,107.20C486.87,106.63 488.43,105.92 490.00,105.10C491.93,104.09 493.87,102.71 495.80,101.40C497.70,100.12 499.60,98.58 501.50,97.30C503.43,95.99 505.37,94.78 507.30,93.60C509.23,92.42 511.17,91.26 513.10,90.20C515.03,89.14 516.97,87.93 518.90,87.20C520.80,86.48 522.70,85.70 524.60,85.50C526.17,85.34 527.73,85.20 529.30,85.20" fill="none" stroke="#2323ff" stroke-width="1.55" stroke-linejoin="round" stroke-linecap="round"/>
<path d="M386.10,134.40C387.40,134.40 388.70,134.32 390.00,134.20C391.33,134.08 392.67,133.01 394.00,132.30C395.47,131.52 396.93,130.49 398.40,129.60C399.80,128.75 401.20,127.94 402.60,127.10C404.03,126.24 405.47,125.44 406.90,124.50C408.27,123.61 409.63,122.53 411.00,121.60C412.43,120.63 413.87,119.74 415.30,118.80C416.70,117.88 418.10,116.91 419.50,116.00C420.93,115.07 422.37,114.21 423.80,113.30C425.47,112.24 427.13,111.15 428.80,110.10C430.40,109.09 432.00,108.09 433.60,107.10 M485.30,107.20C486.87,107.91 488.43,108.64 490.00,109.40C491.93,110.33 493.87,111.13 495.80,112.30C497.70,113.45 499.60,115.21 501.50,116.70C503.43,118.21 505.37,119.72 507.30,121.30C509.23,122.88 511.17,124.62 513.10,126.20C515.03,127.78 516.97,129.60 518.90,130.80C520.80,131.98 522.70,133.22 524.60,133.70C526.17,134.09 527.73,134.47 529.30,134.50" fill="none" stroke="#2323ff" stroke-width="1.55" stroke-linejoin="round" stroke-linecap="round"/>
<path d="M385.80,145.70C393.87,145.70 401.93,145.70 410.00,145.70C417.83,145.70 425.67,145.80 433.50,145.80C435.90,145.80 438.30,144.74 440.70,144.00C443.10,143.26 445.50,141.96 447.90,141.10C450.60,140.13 453.30,139.56 456.00,138.50C458.40,137.56 460.80,135.81 463.20,134.90C465.60,133.99 468.00,133.15 470.40,132.70C474.00,132.03 477.60,131.30 481.20,131.30C483.63,131.30 486.07,132.02 488.50,132.70C490.90,133.37 493.30,135.10 495.70,136.30C498.10,137.50 500.50,138.89 502.90,139.90C505.30,140.91 507.70,141.81 510.10,142.50C512.50,143.19 514.90,143.80 517.30,144.20C521.30,144.87 525.30,145.48 529.30,145.70" fill="none" stroke="#2323ff" stroke-width="1.55" stroke-linejoin="round" stroke-linecap="round"/>
<path d="M385.80,145.80C387.27,146.27 388.73,146.74 390.20,147.20C392.60,147.95 395.00,148.63 397.40,149.40C399.80,150.17 402.20,151.03 404.60,151.80C407.00,152.57 409.40,153.43 411.80,154.00C414.23,154.57 416.67,155.06 419.10,155.40C421.50,155.74 423.90,156.02 426.30,156.20C428.70,156.38 431.10,156.39 433.50,156.60C435.90,156.81 438.30,157.48 440.70,158.20C443.10,158.92 445.50,160.80 447.90,161.50C450.60,162.28 453.30,162.62 456.00,163.20C458.40,163.72 460.80,164.22 463.20,164.80C465.60,165.38 468.00,166.44 470.40,166.70C474.00,167.09 477.60,167.40 481.20,167.40C484.83,167.40 488.47,166.28 492.10,165.20C494.50,164.49 496.90,163.00 499.30,161.60C501.70,160.20 504.10,158.28 506.50,156.60C508.90,154.92 511.30,153.06 513.70,151.50C516.10,149.94 518.50,147.93 520.90,147.20C523.70,146.34 526.50,145.50 529.30,145.50" fill="none" stroke="#2323ff" stroke-width="1.55" stroke-linejoin="round" stroke-linecap="round"/>
<path d="M385.80,185.60C394.47,185.67 403.13,185.78 411.80,185.90C419.03,186.00 426.27,186.25 433.50,186.30C441.67,186.36 449.83,186.34 458.00,186.40C462.13,186.43 466.27,186.80 470.40,186.80C475.20,186.80 480.00,186.58 484.80,186.40C489.63,186.21 494.47,185.72 499.30,185.50C504.10,185.29 508.90,185.00 513.70,185.00C518.90,185.00 524.10,185.00 529.30,185.00" fill="none" stroke="#2323ff" stroke-width="1.55" stroke-linejoin="round" stroke-linecap="round"/>
<path d="M385.80,196.30C389.57,196.30 393.33,196.15 397.10,196.00C401.77,195.81 406.43,195.18 411.10,194.80C415.80,194.42 420.50,193.97 425.20,193.70C427.97,193.54 430.73,193.30 433.50,193.30C437.77,193.30 442.03,193.70 446.30,194.10C449.20,194.37 452.10,195.01 455.00,195.60C456.00,195.80 457.00,196.09 458.00,196.30C462.00,197.14 466.00,197.82 470.00,198.50C473.77,199.14 477.53,200.30 481.30,200.30C485.03,200.30 488.77,199.37 492.50,198.80C496.67,198.17 500.83,196.92 505.00,196.60C509.00,196.29 513.00,196.00 517.00,196.00C521.10,196.00 525.20,196.00 529.30,196.00" fill="none" stroke="#2323ff" stroke-width="1.55" stroke-linejoin="round" stroke-linecap="round"/>
<path d="M385.80,196.30C389.57,196.60 393.33,197.11 397.10,197.70C401.77,198.43 406.43,199.75 411.10,200.80C415.80,201.85 420.50,203.23 425.20,204.00C427.97,204.45 430.73,205.10 433.50,205.10C437.77,205.10 442.03,205.10 446.30,205.10C450.20,205.10 454.10,204.68 458.00,204.50C462.00,204.32 466.00,204.15 470.00,204.00C473.83,203.85 477.67,203.83 481.50,203.60C485.17,203.38 488.83,202.03 492.50,201.30C496.67,200.47 500.83,199.50 505.00,198.90C509.00,198.32 513.00,197.81 517.00,197.50C521.10,197.19 525.20,196.91 529.30,196.80" fill="none" stroke="#2323ff" stroke-width="1.55" stroke-linejoin="round" stroke-linecap="round"/>
<path d="M385.80,230.30C389.57,228.04 393.33,225.84 397.10,223.70C401.77,221.05 406.43,218.18 411.10,216.00C415.80,213.81 420.50,211.38 425.20,210.30C427.97,209.66 430.73,209.14 433.50,208.90C437.77,208.53 442.03,208.52 446.30,208.20C450.20,207.91 454.10,207.32 458.00,206.80C462.00,206.27 466.00,205.54 470.00,205.00C473.83,204.49 477.67,203.60 481.50,203.60C485.17,203.60 488.83,206.42 492.50,208.00C496.67,209.80 500.83,211.64 505.00,213.90C509.00,216.07 513.00,218.89 517.00,221.50C521.10,224.18 525.20,226.95 529.30,229.80" fill="none" stroke="#2323ff" stroke-width="1.55" stroke-linejoin="round" stroke-linecap="round"/>
<path d="M385.80,230.30C389.57,229.06 393.33,227.94 397.10,227.20C401.77,226.29 406.43,225.74 411.10,225.10C415.80,224.45 420.50,223.72 425.20,223.30C427.97,223.05 430.73,223.00 433.50,222.70C436.37,222.39 439.23,221.68 442.10,220.90C444.90,220.13 447.70,218.67 450.50,217.60C453.00,216.64 455.50,215.66 458.00,214.80C462.00,213.42 466.00,212.09 470.00,211.00C473.77,209.98 477.53,208.30 481.30,208.30C485.03,208.30 488.77,210.20 492.50,211.60C496.67,213.16 500.83,215.99 505.00,218.10C509.00,220.12 513.00,222.07 517.00,224.00C521.10,225.97 525.20,227.91 529.30,229.80" fill="none" stroke="#2323ff" stroke-width="1.55" stroke-linejoin="round" stroke-linecap="round"/>
<rect x="457.05" y="68.60" width="10.5" height="10.2" fill="#fff"/>
<circle cx="462.3" cy="73.7" r="4.2" fill="#fff" stroke="#000" stroke-width="1.0"/>
<text x="462.3" y="76.00" font-size="6.8" font-weight="bold" text-anchor="middle" style="stroke-width:0.3px">3</text>
<rect x="458.55" y="171.60" width="10.5" height="10.2" fill="#fff"/>
<circle cx="463.8" cy="176.7" r="4.2" fill="#fff" stroke="#000" stroke-width="1.0"/>
<text x="463.8" y="179.00" font-size="6.8" font-weight="bold" text-anchor="middle" style="stroke-width:0.3px">4</text>
<rect x="458.75" y="184.90" width="10.5" height="10.2" fill="#fff"/>
<circle cx="464" cy="190" r="4.2" fill="#fff" stroke="#000" stroke-width="1.0"/>
<text x="464" y="192.30" font-size="6.8" font-weight="bold" text-anchor="middle" style="stroke-width:0.3px">2</text>
<text transform="translate(388.00,241.80) scale(0.76,1)" font-size="13.5" text-anchor="middle">Γ</text>
<text transform="translate(434.13,241.80) scale(0.76,1)" font-size="13.5" text-anchor="middle">X</text>
<text transform="translate(481.87,241.80) scale(0.76,1)" font-size="13.5" text-anchor="middle">M</text>
<text transform="translate(527.50,241.80) scale(0.76,1)" font-size="13.5" text-anchor="middle">Γ</text>
<text x="458.5" y="251.5" font-size="12.9" text-anchor="middle">Wave vector</text>
<text x="459.9" y="20.5" font-size="17" text-anchor="middle">(c)</text>
<text transform="translate(365.8,119.05) rotate(-90) scale(0.917,1)" font-size="14" text-anchor="middle">Frequency / Hz</text>
<rect x="134.9" y="323.6" width="143.70000000000002" height="12.90" fill="#fba9c5"/>
<rect x="134.9" y="423.4" width="143.70000000000002" height="22.40" fill="#24ab4b"/>
<rect x="134.9" y="453.6" width="143.70000000000002" height="1.80" fill="#ee1c24"/>
<rect x="134.9" y="263.9" width="143.70000000000002" height="225.70000000000005" fill="none" stroke="#a9a9a9" stroke-width="1"/>
<line x1="134.9" y1="489.60" x2="136.4" y2="489.60" stroke="#999" stroke-width="0.8"/>
<line x1="278.6" y1="489.60" x2="277.1" y2="489.60" stroke="#999" stroke-width="0.8"/>
<text transform="translate(133.30,491.00) scale(0.9,1)" font-size="13.0" text-anchor="end">0</text>
<line x1="134.9" y1="433.18" x2="136.4" y2="433.18" stroke="#999" stroke-width="0.8"/>
<line x1="278.6" y1="433.18" x2="277.1" y2="433.18" stroke="#999" stroke-width="0.8"/>
<text transform="translate(133.30,437.28) scale(0.9,1)" font-size="13.0" text-anchor="end">50</text>
<line x1="134.9" y1="376.75" x2="136.4" y2="376.75" stroke="#999" stroke-width="0.8"/>
<line x1="278.6" y1="376.75" x2="277.1" y2="376.75" stroke="#999" stroke-width="0.8"/>
<text transform="translate(133.30,380.85) scale(0.9,1)" font-size="13.0" text-anchor="end">100</text>
<line x1="134.9" y1="320.32" x2="136.4" y2="320.32" stroke="#999" stroke-width="0.8"/>
<line x1="278.6" y1="320.32" x2="277.1" y2="320.32" stroke="#999" stroke-width="0.8"/>
<text transform="translate(133.30,324.43) scale(0.9,1)" font-size="13.0" text-anchor="end">150</text>
<line x1="134.9" y1="263.90" x2="136.4" y2="263.90" stroke="#999" stroke-width="0.8"/>
<line x1="278.6" y1="263.90" x2="277.1" y2="263.90" stroke="#999" stroke-width="0.8"/>
<text transform="translate(133.30,271.60) scale(0.9,1)" font-size="13.0" text-anchor="end">200</text>
<line x1="182.80" y1="489.6" x2="182.80" y2="488.1" stroke="#999" stroke-width="0.8"/>
<line x1="182.80" y1="263.9" x2="182.80" y2="265.4" stroke="#999" stroke-width="0.8"/>
<line x1="230.70" y1="489.6" x2="230.70" y2="488.1" stroke="#999" stroke-width="0.8"/>
<line x1="230.70" y1="263.9" x2="230.70" y2="265.4" stroke="#999" stroke-width="0.8"/>
<path d="M135.50,276.70C137.07,277.62 138.63,278.58 140.20,279.60C142.60,281.16 145.00,283.04 147.40,284.60C149.80,286.16 152.20,287.91 154.60,289.00C157.00,290.09 159.40,290.92 161.80,291.60C164.23,292.29 166.67,292.97 169.10,293.30C171.50,293.63 173.90,293.82 176.30,294.00C178.47,294.16 180.63,294.16 182.80,294.40C184.47,294.58 186.13,295.59 187.80,296.50C189.73,297.56 191.67,299.55 193.60,301.20C196.00,303.25 198.40,305.63 200.80,307.70C202.53,309.19 204.27,310.77 206.00,312.00C208.40,313.70 210.80,315.00 213.20,316.40C215.47,317.72 217.73,319.27 220.00,320.20C221.93,320.99 223.87,321.60 225.80,322.10C227.33,322.50 228.87,323.10 230.40,323.10C231.93,323.10 233.47,322.45 235.00,321.90C236.93,321.21 238.87,319.74 240.80,318.40C242.70,317.09 244.60,315.48 246.50,313.80C248.43,312.09 250.37,310.11 252.30,308.10C254.23,306.09 256.17,303.93 258.10,301.70C260.00,299.51 261.90,297.18 263.80,294.80C265.73,292.38 267.67,289.77 269.60,287.30C271.13,285.34 272.67,283.19 274.20,281.50C275.63,279.92 277.07,278.50 278.50,277.30" fill="none" stroke="#2323ff" stroke-width="1.55" stroke-linejoin="round" stroke-linecap="round"/>
<path d="M135.30,338.60C137.10,338.60 138.90,338.78 140.70,339.00C142.27,339.19 143.83,339.89 145.40,340.50C146.97,341.11 148.53,341.96 150.10,342.80C151.67,343.64 153.23,344.59 154.80,345.60C156.37,346.61 157.93,347.76 159.50,348.90C161.03,350.02 162.57,351.25 164.10,352.40C165.67,353.58 167.23,354.72 168.80,355.90C170.37,357.08 171.93,358.37 173.50,359.50C175.07,360.63 176.63,361.79 178.20,362.70C179.77,363.61 181.33,364.43 182.90,365.10 M182.90,365.20L233.50,365.60 M233.50,365.60C235.00,364.62 236.50,363.59 238.00,362.50C240.03,361.03 242.07,359.43 244.10,357.80C246.40,355.95 248.70,353.83 251.00,352.00C253.33,350.14 255.67,348.26 258.00,346.70C260.33,345.14 262.67,343.63 265.00,342.50C267.30,341.39 269.60,340.31 271.90,339.70C274.10,339.12 276.30,338.61 278.50,338.40" fill="none" stroke="#2323ff" stroke-width="1.55" stroke-linejoin="round" stroke-linecap="round"/>
<path d="M135.30,398.10C136.87,397.09 138.43,396.06 140.00,395.00C142.80,393.10 145.60,390.99 148.40,389.10C151.23,387.19 154.07,385.57 156.90,383.60C159.70,381.65 162.50,379.32 165.30,377.30C168.13,375.26 170.97,373.31 173.80,371.40C175.37,370.34 176.93,369.33 178.50,368.30C179.93,367.36 181.37,366.43 182.80,365.50 M233.50,365.80C235.00,366.75 236.50,367.66 238.00,368.50C240.03,369.64 242.07,370.35 244.10,371.70C246.40,373.22 248.70,375.93 251.00,378.00C253.33,380.10 255.67,382.20 258.00,384.20C260.33,386.20 262.67,388.14 265.00,390.00C267.30,391.83 269.60,394.20 271.90,395.30C274.10,396.35 276.30,397.28 278.50,397.60" fill="none" stroke="#2323ff" stroke-width="1.55" stroke-linejoin="round" stroke-linecap="round"/>
<path d="M135.50,398.10C144.27,398.35 153.03,398.50 161.80,398.50C168.80,398.50 175.80,398.44 182.80,398.30C185.87,398.24 188.93,397.37 192.00,396.80C195.47,396.15 198.93,395.42 202.40,394.50C204.60,393.92 206.80,393.01 209.00,392.40C211.43,391.72 213.87,391.08 216.30,390.60C218.53,390.16 220.77,389.69 223.00,389.50C225.40,389.30 227.80,389.10 230.20,389.10C232.47,389.10 234.73,389.37 237.00,389.60C239.37,389.84 241.73,390.31 244.10,390.80C246.40,391.27 248.70,392.00 251.00,392.60C253.33,393.20 255.67,393.85 258.00,394.40C260.33,394.95 262.67,395.47 265.00,395.90C267.30,396.32 269.60,396.76 271.90,397.00C274.10,397.23 276.30,397.42 278.50,397.50" fill="none" stroke="#2323ff" stroke-width="1.55" stroke-linejoin="round" stroke-linecap="round"/>
<path d="M135.50,397.90C137.07,398.88 138.63,399.85 140.20,400.80C142.60,402.26 145.00,403.79 147.40,405.10C149.80,406.41 152.20,407.63 154.60,408.70C157.00,409.77 159.40,410.84 161.80,411.60C164.23,412.37 166.67,413.06 169.10,413.50C171.50,413.93 173.90,414.30 176.30,414.50C178.47,414.68 180.63,414.75 182.80,414.90C185.43,415.08 188.07,415.21 190.70,415.50C193.10,415.76 195.50,416.50 197.90,416.90C200.60,417.36 203.30,417.61 206.00,418.10C208.40,418.54 210.80,419.27 213.20,419.80C215.60,420.33 218.00,420.96 220.40,421.30C224.00,421.80 227.60,422.40 231.20,422.40C234.83,422.40 238.47,421.73 242.10,421.00C244.50,420.52 246.90,419.25 249.30,418.10C251.70,416.95 254.10,415.45 256.50,413.80C258.90,412.15 261.30,409.93 263.70,408.00C266.10,406.07 268.50,403.71 270.90,402.20C273.43,400.61 275.97,399.22 278.50,398.30" fill="none" stroke="#2323ff" stroke-width="1.55" stroke-linejoin="round" stroke-linecap="round"/>
<path d="M135.50,449.00C142.17,449.00 148.83,448.82 155.50,448.60C161.33,448.41 167.17,447.32 173.00,447.00C176.27,446.82 179.53,446.67 182.80,446.60C190.53,446.44 198.27,446.30 206.00,446.30C214.00,446.30 222.00,446.41 230.00,446.50C238.40,446.60 246.80,446.74 255.20,447.00C262.97,447.24 270.73,447.88 278.50,448.60" fill="none" stroke="#2323ff" stroke-width="1.55" stroke-linejoin="round" stroke-linecap="round"/>
<path d="M135.50,449.20C143.67,449.30 151.83,449.40 160.00,449.50C167.60,449.60 175.20,449.80 182.80,449.80C188.70,449.80 194.60,449.50 200.50,449.50C204.80,449.50 209.10,450.63 213.40,451.20C219.37,451.99 225.33,453.60 231.30,453.60C234.87,453.60 238.43,452.97 242.00,452.50C246.33,451.93 250.67,450.00 255.00,450.00C262.83,450.00 270.67,450.00 278.50,450.00" fill="none" stroke="#2323ff" stroke-width="1.55" stroke-linejoin="round" stroke-linecap="round"/>
<path d="M135.50,456.20C139.37,456.22 143.23,456.40 147.10,456.60C151.77,456.84 156.43,457.41 161.10,458.00C165.80,458.59 170.50,459.85 175.20,460.40C177.73,460.69 180.27,461.10 182.80,461.10C187.30,461.10 191.80,461.10 196.30,461.10C200.20,461.10 204.10,460.39 208.00,460.20C211.67,460.02 215.33,459.80 219.00,459.80C223.00,459.80 227.00,460.30 231.00,460.30C235.00,460.30 239.00,458.69 243.00,458.00C247.00,457.31 251.00,456.27 255.00,456.10C259.00,455.93 263.00,455.80 267.00,455.80C270.83,455.80 274.67,455.80 278.50,455.80" fill="none" stroke="#2323ff" stroke-width="1.55" stroke-linejoin="round" stroke-linecap="round"/>
<path d="M135.50,489.20C139.37,486.86 143.23,484.53 147.10,482.20C151.77,479.39 156.43,476.36 161.10,473.80C165.80,471.23 170.50,468.10 175.20,466.70C177.73,465.94 180.27,465.25 182.80,465.00C187.30,464.55 191.80,464.52 196.30,464.20C200.20,463.93 204.10,463.57 208.00,463.20C211.67,462.85 215.33,462.43 219.00,462.00C223.00,461.53 227.00,460.50 231.00,460.50C235.00,460.50 239.00,463.56 243.00,465.50C247.00,467.44 251.00,470.01 255.00,472.50C259.00,474.99 263.00,477.66 267.00,480.50C270.83,483.22 274.67,486.13 278.50,489.20" fill="none" stroke="#2323ff" stroke-width="1.55" stroke-linejoin="round" stroke-linecap="round"/>
<path d="M135.50,489.20C139.37,488.23 143.23,487.29 147.10,486.40C151.77,485.32 156.43,484.15 161.10,483.30C165.80,482.44 170.50,481.80 175.20,481.10C176.80,480.86 178.40,480.61 180.00,480.40C181.73,480.18 183.47,480.09 185.20,479.80C186.90,479.51 188.60,478.85 190.30,478.20C192.03,477.53 193.77,476.46 195.50,475.60C197.20,474.76 198.90,473.94 200.60,473.10C202.33,472.24 204.07,471.37 205.80,470.50C207.53,469.63 209.27,468.68 211.00,467.90C212.70,467.13 214.40,466.48 216.10,465.80C217.83,465.11 219.57,464.33 221.30,463.80C223.00,463.28 224.70,462.69 226.40,462.50C227.80,462.35 229.20,462.20 230.60,462.20C234.73,462.20 238.87,465.88 243.00,468.00C247.00,470.05 251.00,472.47 255.00,474.80C259.00,477.13 263.00,479.55 267.00,482.00C270.83,484.35 274.67,486.75 278.50,489.20" fill="none" stroke="#2323ff" stroke-width="1.55" stroke-linejoin="round" stroke-linecap="round"/>
<rect x="205.15" y="324.90" width="10.5" height="10.2" fill="#fff"/>
<circle cx="210.4" cy="330" r="4.2" fill="#fff" stroke="#000" stroke-width="1.0"/>
<text x="210.4" y="332.30" font-size="6.8" font-weight="bold" text-anchor="middle" style="stroke-width:0.3px">3</text>
<rect x="203.25" y="429.50" width="10.5" height="10.2" fill="#fff"/>
<circle cx="208.5" cy="434.6" r="4.2" fill="#fff" stroke="#000" stroke-width="1.0"/>
<text x="208.5" y="436.90" font-size="6.8" font-weight="bold" text-anchor="middle" style="stroke-width:0.3px">4</text>
<rect x="202.95" y="449.30" width="10.5" height="10.2" fill="#fff"/>
<circle cx="208.2" cy="454.4" r="4.2" fill="#fff" stroke="#000" stroke-width="1.0"/>
<text x="208.2" y="456.70" font-size="6.8" font-weight="bold" text-anchor="middle" style="stroke-width:0.3px">5</text>
<text transform="translate(136.80,500.80) scale(0.76,1)" font-size="13.5" text-anchor="middle">Γ</text>
<text transform="translate(183.10,500.80) scale(0.76,1)" font-size="13.5" text-anchor="middle">X</text>
<text transform="translate(231.00,500.80) scale(0.76,1)" font-size="13.5" text-anchor="middle">M</text>
<text transform="translate(276.80,500.80) scale(0.76,1)" font-size="13.5" text-anchor="middle">Γ</text>
<text x="206.8" y="510.5" font-size="12.9" text-anchor="middle">Wave vector</text>
<text x="207.6" y="280.3" font-size="17" text-anchor="middle">(d)</text>
<text transform="translate(114.4,374.55) rotate(-90) scale(0.928,1)" font-size="14" text-anchor="middle">Frequency / Hz</text>
<rect x="305.9" y="323.9" width="143.10000000000002" height="9.80" fill="#fba9c5"/>
<rect x="305.9" y="422.1" width="143.10000000000002" height="21.10" fill="#24ab4b"/>
<rect x="305.9" y="451" width="143.10000000000002" height="5.50" fill="#ee1c24"/>
<rect x="305.9" y="263.9" width="143.10000000000002" height="225.5" fill="none" stroke="#a9a9a9" stroke-width="1"/>
<line x1="305.9" y1="489.40" x2="307.4" y2="489.40" stroke="#999" stroke-width="0.8"/>
<line x1="449.0" y1="489.40" x2="447.5" y2="489.40" stroke="#999" stroke-width="0.8"/>
<text transform="translate(304.30,491.00) scale(0.9,1)" font-size="13.0" text-anchor="end">0</text>
<line x1="305.9" y1="444.30" x2="307.4" y2="444.30" stroke="#999" stroke-width="0.8"/>
<line x1="449.0" y1="444.30" x2="447.5" y2="444.30" stroke="#999" stroke-width="0.8"/>
<text transform="translate(304.30,448.80) scale(0.9,1)" font-size="13.0" text-anchor="end">30</text>
<line x1="305.9" y1="399.20" x2="307.4" y2="399.20" stroke="#999" stroke-width="0.8"/>
<line x1="449.0" y1="399.20" x2="447.5" y2="399.20" stroke="#999" stroke-width="0.8"/>
<text transform="translate(304.30,403.70) scale(0.9,1)" font-size="13.0" text-anchor="end">60</text>
<line x1="305.9" y1="354.10" x2="307.4" y2="354.10" stroke="#999" stroke-width="0.8"/>
<line x1="449.0" y1="354.10" x2="447.5" y2="354.10" stroke="#999" stroke-width="0.8"/>
<text transform="translate(304.30,358.60) scale(0.9,1)" font-size="13.0" text-anchor="end">90</text>
<line x1="305.9" y1="309.00" x2="307.4" y2="309.00" stroke="#999" stroke-width="0.8"/>
<line x1="449.0" y1="309.00" x2="447.5" y2="309.00" stroke="#999" stroke-width="0.8"/>
<text transform="translate(304.30,313.50) scale(0.9,1)" font-size="13.0" text-anchor="end">120</text>
<line x1="305.9" y1="263.90" x2="307.4" y2="263.90" stroke="#999" stroke-width="0.8"/>
<line x1="449.0" y1="263.90" x2="447.5" y2="263.90" stroke="#999" stroke-width="0.8"/>
<text transform="translate(304.30,272.10) scale(0.9,1)" font-size="13.0" text-anchor="end">150</text>
<line x1="353.60" y1="489.4" x2="353.60" y2="487.9" stroke="#999" stroke-width="0.8"/>
<line x1="353.60" y1="263.9" x2="353.60" y2="265.4" stroke="#999" stroke-width="0.8"/>
<line x1="401.30" y1="489.4" x2="401.30" y2="487.9" stroke="#999" stroke-width="0.8"/>
<line x1="401.30" y1="263.9" x2="401.30" y2="265.4" stroke="#999" stroke-width="0.8"/>
<path d="M305.90,275.70C307.33,276.10 308.77,276.69 310.20,277.40C312.60,278.59 315.00,281.03 317.40,282.50C319.80,283.97 322.20,285.36 324.60,286.40C327.00,287.44 329.40,288.40 331.80,289.00C334.23,289.61 336.67,290.09 339.10,290.40C341.50,290.71 343.90,290.91 346.30,291.10C348.70,291.29 351.10,291.30 353.50,291.60C354.93,291.78 356.37,292.54 357.80,293.30C359.73,294.33 361.67,296.51 363.60,298.30C366.00,300.52 368.40,303.12 370.80,305.50C372.53,307.22 374.27,309.24 376.00,310.60C378.40,312.48 380.80,313.66 383.20,315.20C385.47,316.66 387.73,318.59 390.00,319.60C391.93,320.46 393.87,321.21 395.80,321.60C397.70,321.98 399.60,322.40 401.50,322.40C403.43,322.40 405.37,321.55 407.30,320.80C409.23,320.05 411.17,318.48 413.10,317.00C415.00,315.55 416.90,313.60 418.80,311.80C420.73,309.97 422.67,308.11 424.60,306.10C426.53,304.09 428.47,301.93 430.40,299.70C432.30,297.51 434.20,295.21 436.10,292.80C438.03,290.35 439.97,287.55 441.90,285.10C443.43,283.16 444.97,281.12 446.50,279.50C447.30,278.65 448.10,277.90 448.90,277.20" fill="none" stroke="#2323ff" stroke-width="1.55" stroke-linejoin="round" stroke-linecap="round"/>
<path d="M305.90,334.80C307.50,334.86 309.10,335.22 310.70,335.60C312.27,335.98 313.83,336.80 315.40,337.60C316.97,338.40 318.53,339.54 320.10,340.60C321.67,341.66 323.23,342.80 324.80,344.00C326.37,345.20 327.93,346.50 329.50,347.80C331.03,349.07 332.57,350.41 334.10,351.70C335.67,353.01 337.23,354.35 338.80,355.60C340.37,356.85 341.93,358.15 343.50,359.20C345.07,360.25 346.63,361.39 348.20,362.00C349.97,362.68 351.73,363.29 353.50,363.50 M353.50,363.50C361.00,363.50 368.50,363.89 376.00,364.30C380.80,364.56 385.60,365.38 390.40,365.80C394.73,366.18 399.07,366.52 403.40,366.80 M403.40,366.80C406.30,364.88 409.20,362.68 412.10,360.30C414.50,358.33 416.90,355.97 419.30,353.80C421.70,351.63 424.10,349.34 426.50,347.30C428.90,345.26 431.30,343.15 433.70,341.50C436.10,339.85 438.50,338.22 440.90,337.20C443.57,336.07 446.23,335.08 448.90,334.60" fill="none" stroke="#2323ff" stroke-width="1.55" stroke-linejoin="round" stroke-linecap="round"/>
<path d="M305.90,396.40C307.27,395.81 308.63,395.18 310.00,394.50C311.67,393.67 313.33,392.78 315.00,391.80C317.33,390.42 319.67,388.74 322.00,387.20C324.47,385.57 326.93,383.93 329.40,382.30C331.93,380.63 334.47,378.94 337.00,377.30C339.67,375.57 342.33,373.91 345.00,372.20C346.50,371.24 348.00,370.25 349.50,369.30C350.83,368.45 352.17,367.62 353.50,366.80 M353.50,366.80L403.40,366.80 M403.40,366.80C406.30,367.38 409.20,368.80 412.10,370.40C414.50,371.73 416.90,374.17 419.30,376.20C421.70,378.23 424.10,380.57 426.50,382.60C428.90,384.63 431.30,386.59 433.70,388.40C436.10,390.21 438.50,392.42 440.90,393.50C443.57,394.70 446.23,395.77 448.90,396.10" fill="none" stroke="#2323ff" stroke-width="1.55" stroke-linejoin="round" stroke-linecap="round"/>
<path d="M305.90,396.30C313.93,396.38 321.97,396.45 330.00,396.50C337.83,396.54 345.67,396.60 353.50,396.60C355.90,396.60 358.30,396.36 360.70,396.10C363.10,395.84 365.50,394.80 367.90,394.20C370.60,393.53 373.30,393.10 376.00,392.30C378.40,391.58 380.80,390.19 383.20,389.40C385.60,388.61 388.00,387.77 390.40,387.40C394.00,386.85 397.60,386.30 401.20,386.30C404.83,386.30 408.47,388.00 412.10,389.10C414.50,389.83 416.90,390.93 419.30,391.70C421.70,392.47 424.10,393.32 426.50,393.80C428.90,394.28 431.30,394.64 433.70,394.90C438.77,395.45 443.83,395.95 448.90,396.10" fill="none" stroke="#2323ff" stroke-width="1.55" stroke-linejoin="round" stroke-linecap="round"/>
<path d="M305.90,399.60C309.73,401.38 313.57,403.22 317.40,405.10C319.80,406.28 322.20,407.63 324.60,408.70C327.00,409.77 329.40,410.84 331.80,411.60C334.23,412.37 336.67,413.16 339.10,413.50C341.50,413.84 343.90,414.06 346.30,414.20C348.70,414.34 351.10,414.36 353.50,414.50C355.90,414.64 358.30,414.89 360.70,415.20C363.10,415.51 365.50,416.20 367.90,416.60C370.60,417.06 373.30,417.28 376.00,417.80C378.40,418.27 380.80,419.30 383.20,419.80C385.60,420.30 388.00,420.77 390.40,421.00C394.00,421.35 397.60,421.70 401.20,421.70C403.63,421.70 406.07,421.20 408.50,420.70C410.90,420.21 413.30,419.01 415.70,417.80C418.10,416.59 420.50,414.68 422.90,413.00C425.30,411.32 427.70,409.38 430.10,407.70C432.50,406.02 434.90,404.11 437.30,402.90C439.70,401.69 442.10,400.53 444.50,400.00C445.97,399.68 447.43,399.40 448.90,399.30" fill="none" stroke="#2323ff" stroke-width="1.55" stroke-linejoin="round" stroke-linecap="round"/>
<path d="M305.90,445.50C309.60,445.29 313.30,445.09 317.00,444.90C321.70,444.66 326.40,444.36 331.10,444.20C336.20,444.02 341.30,443.80 346.40,443.80C350.93,443.80 355.47,443.85 360.00,443.90C366.00,443.97 372.00,444.37 378.00,444.60C386.70,444.94 395.40,445.60 404.10,445.60C419.07,445.60 434.03,445.60 449.00,445.50" fill="none" stroke="#2323ff" stroke-width="1.55" stroke-linejoin="round" stroke-linecap="round"/>
<path d="M305.90,445.60C309.60,445.91 313.30,446.20 317.00,446.40C321.70,446.65 326.40,446.87 331.10,447.00C336.20,447.14 341.30,447.30 346.40,447.30C350.93,447.30 355.47,447.19 360.00,447.10C366.00,446.98 372.00,446.50 378.00,446.50C382.00,446.50 386.00,447.46 390.00,448.00C394.70,448.64 399.40,450.10 404.10,450.10C411.13,450.10 418.17,448.25 425.20,447.70C433.13,447.08 441.07,446.54 449.00,446.30" fill="none" stroke="#2323ff" stroke-width="1.55" stroke-linejoin="round" stroke-linecap="round"/>
<path d="M305.90,460.10C309.63,459.99 313.37,459.85 317.10,459.70C321.77,459.51 326.43,459.00 331.10,459.00C335.80,459.00 340.50,459.58 345.20,460.00C347.53,460.21 349.87,460.80 352.20,460.80C356.90,460.80 361.60,460.07 366.30,459.70C372.33,459.23 378.37,458.30 384.40,458.30C390.03,458.30 395.67,458.50 401.30,458.50C405.87,458.50 410.43,458.50 415.00,458.50C420.00,458.50 425.00,458.80 430.00,459.00C436.33,459.26 442.67,459.60 449.00,460.00" fill="none" stroke="#2323ff" stroke-width="1.55" stroke-linejoin="round" stroke-linecap="round"/>
<path d="M305.90,489.40C309.77,486.99 313.63,484.50 317.50,481.90C322.30,478.68 327.10,474.74 331.90,471.80C334.60,470.14 337.30,468.59 340.00,467.30C342.13,466.28 344.27,465.20 346.40,464.60C348.80,463.93 351.20,463.30 353.60,463.10C358.40,462.69 363.20,462.73 368.00,462.40C370.33,462.24 372.67,461.93 375.00,461.70C377.33,461.47 379.67,461.24 382.00,461.00C384.50,460.74 387.00,460.47 389.50,460.20C391.67,459.97 393.83,459.66 396.00,459.50C397.77,459.37 399.53,459.20 401.30,459.20C402.87,459.20 404.43,460.02 406.00,460.60C407.70,461.23 409.40,462.13 411.10,463.10C413.53,464.49 415.97,466.51 418.40,468.20C420.80,469.87 423.20,471.58 425.60,473.20C428.00,474.82 430.40,476.33 432.80,477.90C435.20,479.47 437.60,480.92 440.00,482.60C443.00,484.70 446.00,486.96 449.00,489.40" fill="none" stroke="#2323ff" stroke-width="1.55" stroke-linejoin="round" stroke-linecap="round"/>
<path d="M305.90,489.40C309.77,488.29 313.63,487.22 317.50,486.20C322.30,484.94 327.10,483.67 331.90,482.60C336.73,481.53 341.57,480.26 346.40,479.70C348.27,479.48 350.13,479.36 352.00,479.20C353.97,479.03 355.93,478.94 357.90,478.70C359.10,478.55 360.30,478.29 361.50,478.00C362.70,477.71 363.90,477.27 365.10,476.80C366.33,476.31 367.57,475.71 368.80,475.00C370.00,474.31 371.20,473.33 372.40,472.50C373.60,471.67 374.80,470.63 376.00,470.00C378.07,468.92 380.13,468.33 382.20,467.50C384.63,466.53 387.07,465.48 389.50,464.60C391.90,463.73 394.30,462.82 396.70,462.20C398.23,461.80 399.77,461.20 401.30,461.20C402.87,461.20 404.43,462.17 406.00,462.80C407.70,463.48 409.40,464.40 411.10,465.30C413.53,466.60 415.97,468.03 418.40,469.60C420.80,471.14 423.20,473.14 425.60,474.70C428.00,476.26 430.40,477.55 432.80,479.00C435.20,480.45 437.60,481.87 440.00,483.40C443.00,485.31 446.00,487.31 449.00,489.40" fill="none" stroke="#2323ff" stroke-width="1.55" stroke-linejoin="round" stroke-linecap="round"/>
<rect x="379.25" y="323.70" width="10.5" height="10.2" fill="#fff"/>
<circle cx="384.5" cy="328.8" r="4.2" fill="#fff" stroke="#000" stroke-width="1.0"/>
<text x="384.5" y="331.10" font-size="6.8" font-weight="bold" text-anchor="middle" style="stroke-width:0.3px">3</text>
<rect x="373.95" y="427.70" width="10.5" height="10.2" fill="#fff"/>
<circle cx="379.2" cy="432.8" r="4.2" fill="#fff" stroke="#000" stroke-width="1.0"/>
<text x="379.2" y="435.10" font-size="6.8" font-weight="bold" text-anchor="middle" style="stroke-width:0.3px">4</text>
<rect x="375.05" y="449.30" width="10.5" height="10.2" fill="#fff"/>
<circle cx="380.3" cy="454.4" r="4.2" fill="#fff" stroke="#000" stroke-width="1.0"/>
<text x="380.3" y="456.70" font-size="6.8" font-weight="bold" text-anchor="middle" style="stroke-width:0.3px">5</text>
<text transform="translate(307.80,499.80) scale(0.76,1)" font-size="13.5" text-anchor="middle">Γ</text>
<text transform="translate(353.90,499.80) scale(0.76,1)" font-size="13.5" text-anchor="middle">X</text>
<text transform="translate(401.60,499.80) scale(0.76,1)" font-size="13.5" text-anchor="middle">M</text>
<text transform="translate(447.20,499.80) scale(0.76,1)" font-size="13.5" text-anchor="middle">Γ</text>
<text x="378" y="510.5" font-size="12.9" text-anchor="middle">Wave vector</text>
<text x="378.3" y="279" font-size="17" text-anchor="middle">(e)</text>
<text transform="translate(289.4,369.05) rotate(-90) scale(0.917,1)" font-size="14" text-anchor="middle">Frequency / Hz</text>
</svg>
</body></html>
